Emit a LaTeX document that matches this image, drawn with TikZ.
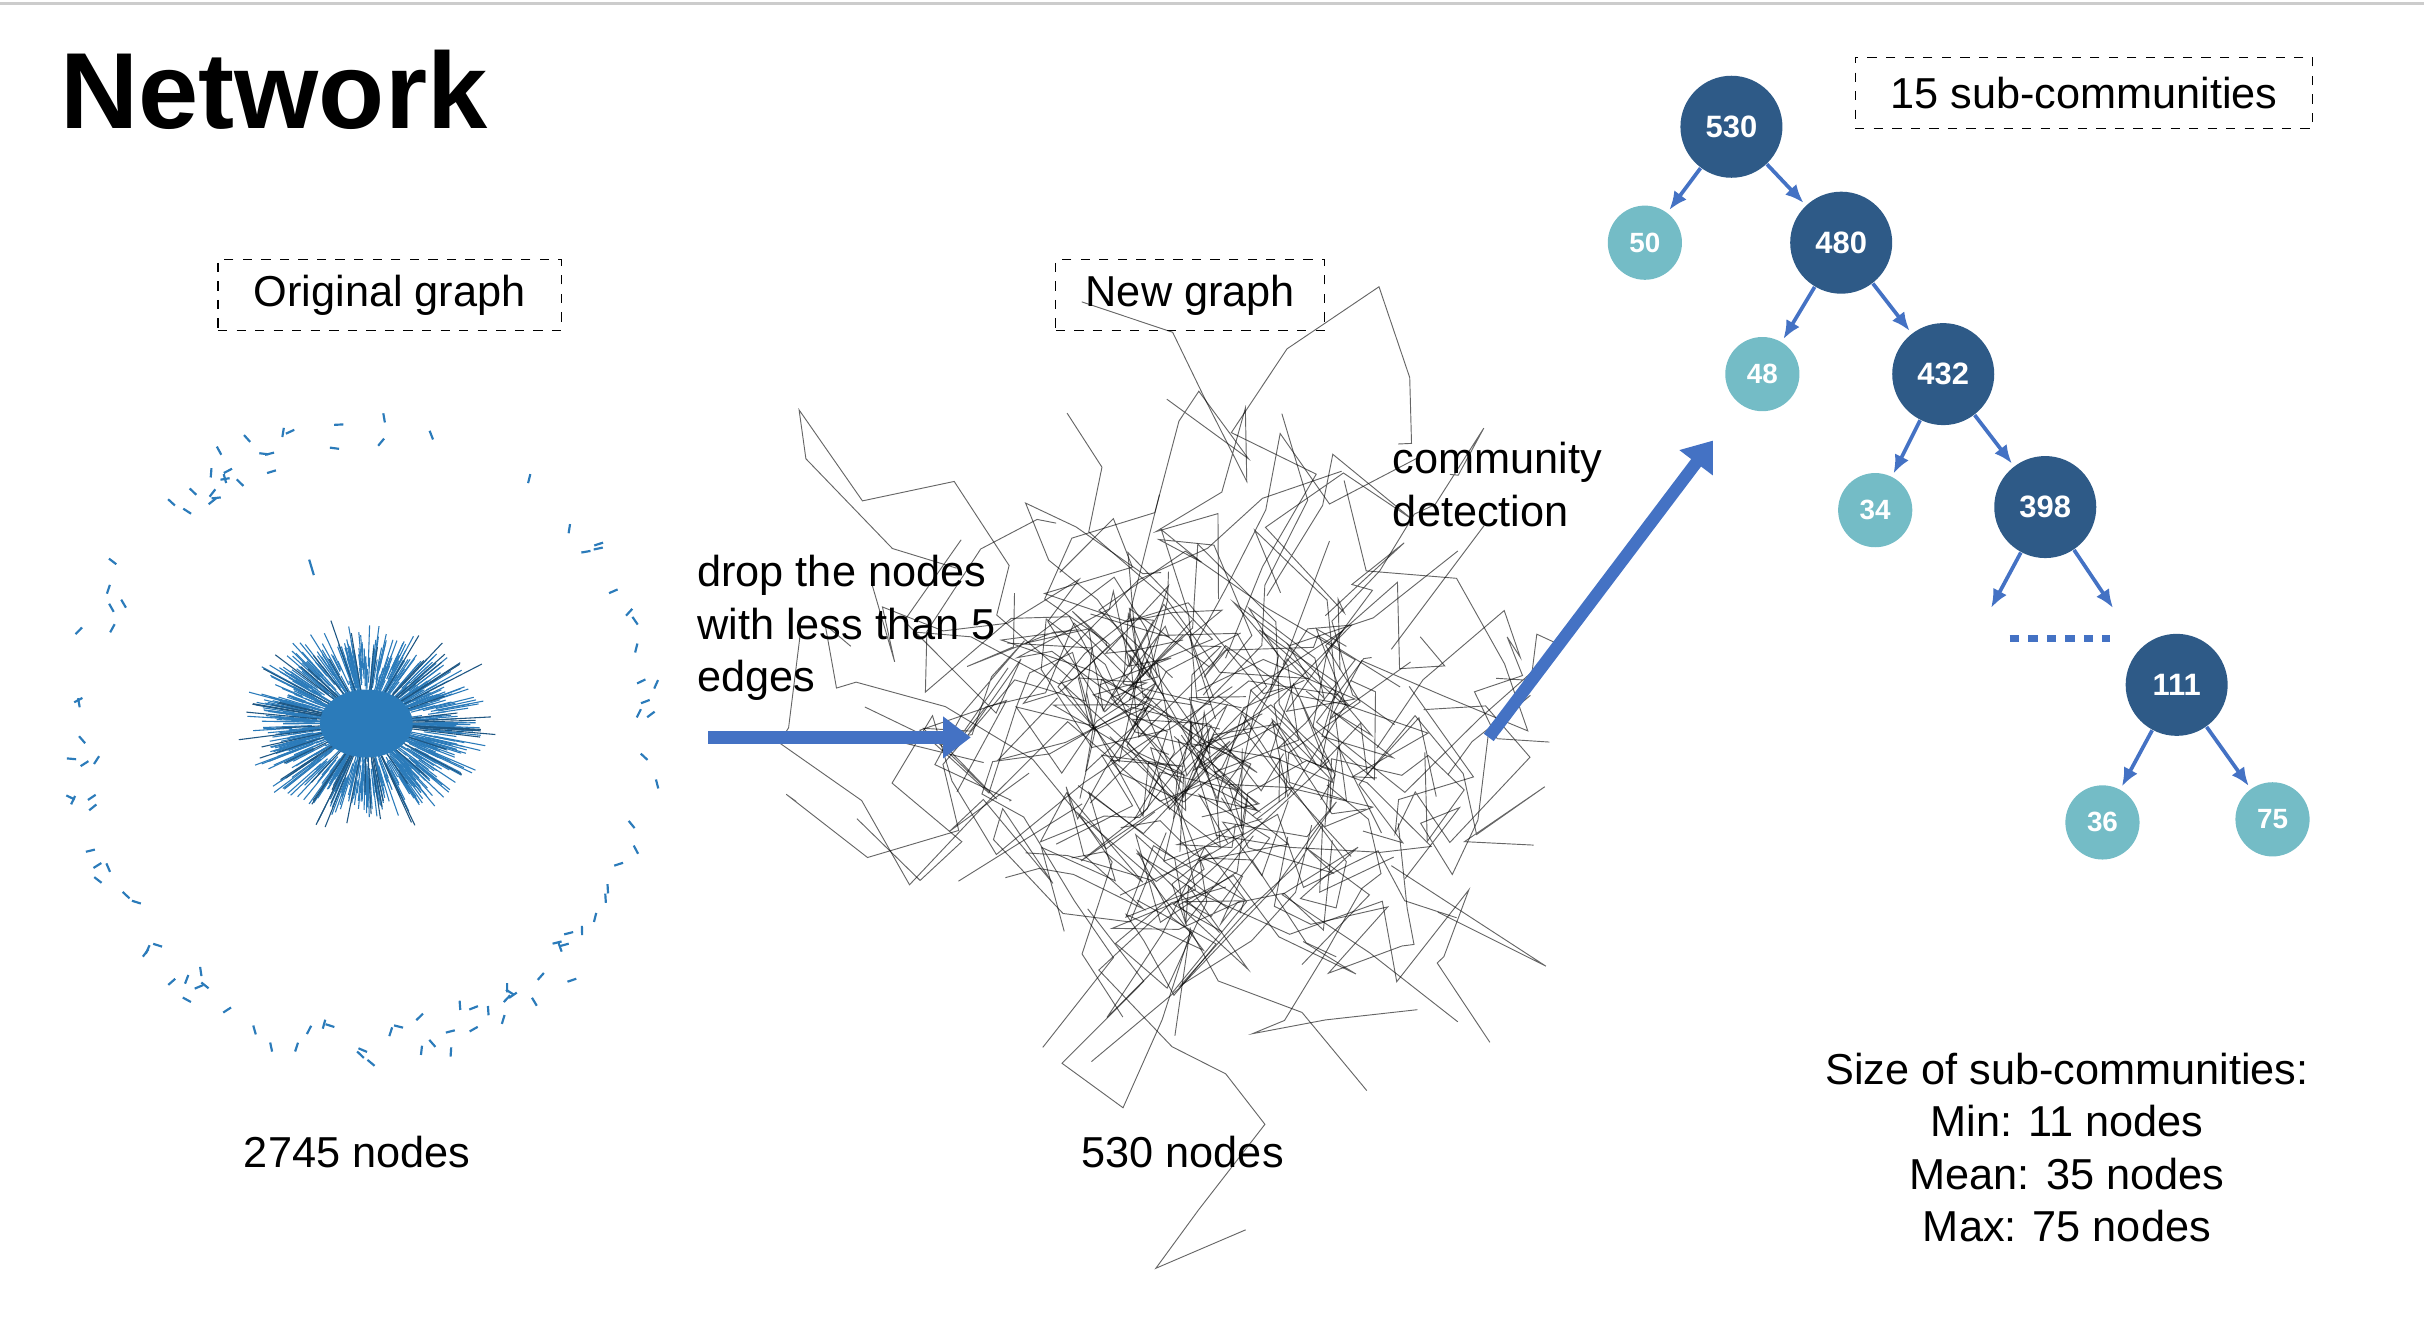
\documentclass[tikz,border=0pt]{standalone}
\usepackage{fontspec}
\setmainfont{Liberation Sans}
\usetikzlibrary{arrows.meta}
\begin{document}
\begin{tikzpicture}[x=0.5pt,y=-0.5pt,
  dark/.style={circle,fill=darkc,text=white,font=\bfseries\fontsize{10}{11}\selectfont,minimum size=33pt,inner sep=0pt},
  light/.style={circle,fill=lightc,text=white,font=\bfseries\fontsize{9}{10}\selectfont,minimum size=24pt,inner sep=0pt},
  tarr/.style={-{Latex[length=6pt,width=5pt]},draw=arrc,line width=1.2pt,shorten >=1pt},
  big/.style={draw=arrc,line width=4pt,-{Triangle[length=9pt,width=13pt]}},
  dbox/.style={draw,dashed,thin,font=\fontsize{14}{16}\selectfont,minimum height=23pt},
  txt/.style={font=\fontsize{14}{17}\selectfont},
]
\definecolor{darkc}{HTML}{2E5A87}
\definecolor{lightc}{HTML}{74BCC6}
\definecolor{arrc}{HTML}{4472C4}
\definecolor{blobc}{HTML}{2B7BBA}
\useasboundingbox (0,0) rectangle (1568,860);
\draw[gray!40,line width=1pt] (0,2) -- (1568,2);
\node[anchor=west,font=\bfseries\fontsize{35}{40}\selectfont] (title) at (32,58) {Network};
% boxes
\node[dbox,minimum width=111pt] (orig) at (252,191) {Original graph};
\node[dbox,minimum width=87pt] (newg) at (770,191) {New graph};
\node[dbox,minimum width=148pt] (sub) at (1348,60) {15 sub-communities};
% original graph
\pgfmathsetseed{7}
\foreach \i in {1,...,700}{
  \pgfmathsetmacro{\ang}{360*rnd}
  \pgfmathsetmacro{\r}{48*sqrt(rnd)}
  \pgfmathsetmacro{\rr}{\r+10+25*rnd}
  \draw[blobc,line width=0.35pt] ({237+\r*cos(\ang)},{468+0.8*\r*sin(\ang)}) -- ({237+\rr*cos(\ang)},{468+0.8*\rr*sin(\ang)});
}
\foreach \i in {1,...,60}{
  \pgfmathsetmacro{\ang}{360*rnd}
  \pgfmathsetmacro{\rr}{55+35*rnd}
  \draw[blobc!70!black,line width=0.35pt] (237,468) -- ({237+\rr*cos(\ang)},{468+0.8*\rr*sin(\ang)});
}
\fill[blobc] (237,468) ellipse (30 and 22);
\foreach \i in {1,...,110}{
  \pgfmathsetmacro{\ang}{360*rnd}
  \pgfmathsetmacro{\r}{0.9+0.12*rnd}
  \pgfmathsetmacro{\d}{360*rnd}
  \draw[blobc,line width=0.7pt] ({237+195*\r*cos(\ang)},{478+205*\r*sin(\ang)}) -- ++({6*cos(\d)},{6*sin(\d)});
}
\draw[blobc,line width=0.7pt] (200,362) -- (203,372);
% new graph: random-walk polylines
\foreach \i in {1,...,90}{
  \pgfmathsetmacro{\px}{790+85*(rand+rand+0.5*rand)}
  \pgfmathsetmacro{\py}{485+65*(rand+rand+0.5*rand)}
  \draw[black,opacity=0.6,line width=0.3pt] (\px,\py)
    -- ++({60*rand},{60*rand}) -- ++({60*rand},{60*rand}) -- ++({60*rand},{60*rand})
    -- ++({60*rand},{60*rand}) -- ++({60*rand},{60*rand}) -- ++({60*rand},{60*rand})
    -- ++({60*rand},{60*rand}) -- ++({60*rand},{60*rand});
}
\draw[black,opacity=0.6,line width=0.3pt] (900,560) -- (1000,625) -- (930,590) (960,340) -- (900,420) (860,350) -- (830,430) (760,670) -- (770,600) (620,570) -- (700,520) (750,320) -- (730,400);
% arrows and texts
\coordinate (a1s) at (458,477); \coordinate (a1e) at (628,477);
\draw[big] (a1s) -- (a1e);
\coordinate (a2s) at (963,477); \coordinate (a2e) at (1108,285);
\draw[big] (a2s) -- (a2e);
\node[txt,anchor=north west,align=left] (drop) at (444,352) {drop the nodes\\with less than 5\\edges};
\node[txt,anchor=north west,align=left] (comm) at (894,279) {community\\detection};
\node[txt] (n1) at (231,745) {2745 nodes};
\node[txt] (n2) at (765,745) {530 nodes};
\node[txt,align=center,anchor=north] (size) at (1337,674) {Size of sub-communities:\\Min: 11 nodes\\Mean: 35 nodes\\Max: 75 nodes};
% tree
\node[dark] (t530) at (1120,82) {530};
\node[light] (t50) at (1064,157) {50};
\node[dark] (t480) at (1191,157) {480};
\node[light] (t48) at (1140,242) {48};
\node[dark] (t432) at (1257,242) {432};
\node[light] (t34) at (1213,330) {34};
\node[dark] (t398) at (1323,328) {398};
\node[dark] (t111) at (1408,443) {111};
\node[light] (t36) at (1360,532) {36};
\node[light] (t75) at (1470,530) {75};
\coordinate (l398) at (1287,395); \coordinate (r398) at (1368,395);
\draw[tarr] (t530) -- (t50);
\draw[tarr] (t530) -- (t480);
\draw[tarr] (t480) -- (t48);
\draw[tarr] (t480) -- (t432);
\draw[tarr] (t432) -- (t34);
\draw[tarr] (t432) -- (t398);
\draw[tarr] (t398) -- (l398);
\draw[tarr] (t398) -- (r398);
\draw[tarr] (t111) -- (t36);
\draw[tarr] (t111) -- (t75);
\coordinate (d1) at (1300,413); \coordinate (d2) at (1365,413);
\draw[arrc,line width=2.5pt,dash pattern=on 3pt off 3pt] (d1) -- (d2);
\end{tikzpicture}
\end{document}
